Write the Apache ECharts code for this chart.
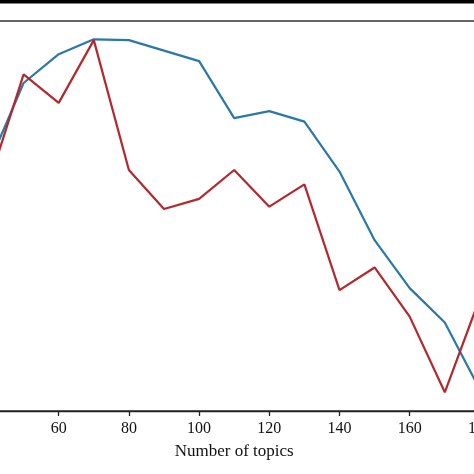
<!DOCTYPE html>
<html>
<head>
<meta charset="utf-8">
<script src="https://cdn.jsdelivr.net/npm/echarts@6/dist/echarts.min.js"></script>
<style>html,body{margin:0;padding:0;background:#fff}#c{width:474px;height:474px}</style>
</head>
<body>
<div id="c"></div>
<script>
var topics = [40, 50, 60, 70, 80, 90, 100, 110, 120, 130, 140, 150, 160, 170, 180];
var blueSeries = [63.1, 84.1, 91.5, 95.3, 95.1, 92.4, 89.7, 75.1, 76.9, 74.2, 61.4, 43.8, 31.5, 22.7, 5.5];
var redSeries = [58.2, 86.3, 79.0, 95.1, 61.8, 51.8, 54.4, 61.8, 52.4, 58.1, 31.0, 36.8, 24.2, 4.8, 29.0];
var xTicks = [40, 60, 80, 100, 120, 140, 160, 180];
var xName = 'Number of topics';

function pairs(xs, ys) { return xs.map(function (x, i) { return [x, ys[i]]; }); }

var chart = echarts.init(document.getElementById('c'), null, {renderer: 'canvas'});
chart.setOption({
  animation: false,
  backgroundColor: '#fff',
  graphic: [{
    type: 'rect', left: 0, top: 0, shape: {width: 474, height: 3.5},
    style: {fill: '#000'}
  }],
  grid: {
    left: -11.5, right: -5.9, top: 21, bottom: 63,
    containLabel: false, outerBoundsMode: 'none',
    show: true, borderColor: '#333', borderWidth: 1.3, backgroundColor: 'transparent'
  },
  xAxis: {
    type: 'value', min: 40, max: 180, interval: 20,
    name: xName, nameLocation: 'middle', nameGap: 32,
    nameTextStyle: {fontFamily: 'Liberation Serif', fontSize: 17, color: '#111'},
    axisLine: {show: true, lineStyle: {color: '#222', width: 1.3}},
    axisTick: {show: true, inside: false, length: 5, lineStyle: {color: '#222', width: 1.3}},
    axisLabel: {fontFamily: 'Liberation Serif', fontSize: 16, color: '#111', margin: 10,
      customValues: xTicks, hideOverlap: false},
    splitLine: {show: false}
  },
  yAxis: {
    type: 'value', min: 0, max: 100,
    axisLine: {show: false}, axisTick: {show: false}, axisLabel: {show: false},
    splitLine: {show: false}
  },
  series: [
    {type: 'line', data: pairs(topics, blueSeries), symbol: 'none',
      lineStyle: {color: '#2a78aa', width: 2.2}, z: 2},
    {type: 'line', data: pairs(topics, redSeries), symbol: 'none',
      lineStyle: {color: '#b3282c', width: 2.2}, z: 3}
  ]
});
</script>
</body>
</html>
